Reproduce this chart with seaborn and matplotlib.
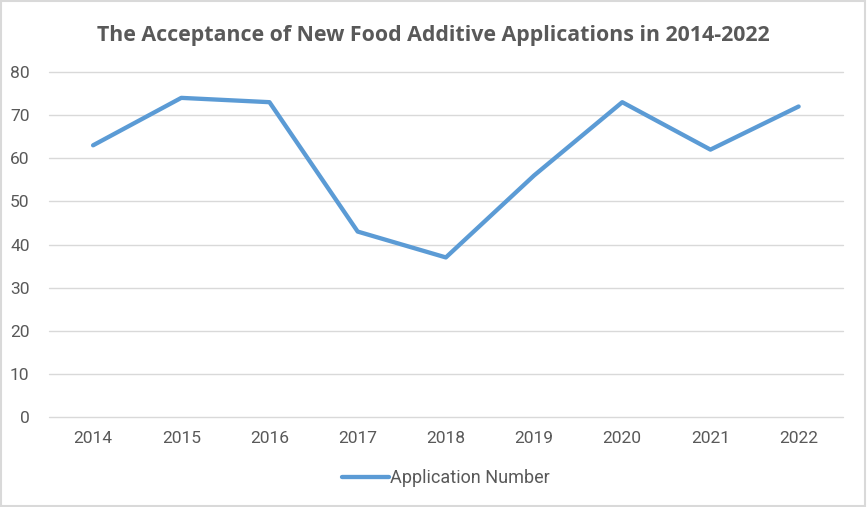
import matplotlib.pyplot as plt
import matplotlib.patches as mpatches
import pandas as pd
import seaborn as sns

# data
years = ['2014', '2015', '2016', '2017', '2018', '2019', '2020', '2021', '2022']
applications = [63, 74, 73, 43, 37, 56, 73, 62, 72]
y_ticks = [0, 10, 20, 30, 40, 50, 60, 70, 80]

df = pd.DataFrame({'year': years, 'Application Number': applications})

sns.set_style('white')
plt.rcParams['font.family'] = ['Roboto', 'DejaVu Sans']

fig = plt.figure(figsize=(8.67, 5.07), dpi=100)
ax = fig.add_axes([0.0565, 0.1775, 0.9155, 0.6805])

sns.lineplot(data=df, x='year', y='Application Number', ax=ax,
             color='#5b9bd5', linewidth=3.1, label='Application Number',
             sort=False)

ax.set_xlim(-0.5, len(years) - 0.5)
ax.set_ylim(0, 80)
ax.set_yticks(y_ticks)
ax.grid(axis='y', color='#d9d9d9', linewidth=1.0)
ax.set_axisbelow(True)
for gl in ax.get_ygridlines():
    gl.set_clip_on(False)
for s in ax.spines.values():
    s.set_visible(False)
ax.tick_params(axis='both', length=0, labelsize=12.5, colors='#595959', pad=10)
ax.tick_params(axis='y', pad=14)
ax.set_xlabel('')
ax.set_ylabel('')

leg = ax.legend(loc='upper center', bbox_to_anchor=(0.5, -0.105), frameon=False,
                fontsize=13, handlelength=2.6, handletextpad=0.1)
for t in leg.get_texts():
    t.set_color('#595959')

fig.text(0.5, 0.93, 'The Acceptance of New Food Additive Applications in 2014-2022',
         ha='center', va='center', fontsize=15.4, fontweight='bold',
         color='#595959', family=['Open Sans', 'DejaVu Sans'])

# light border around the whole chart
fig.patches.append(mpatches.Rectangle((0.001, 0.002), 0.997, 0.996,
                                      transform=fig.transFigure, fill=False,
                                      edgecolor='#d9d9d9', linewidth=1.5))

fig.savefig('out.png', dpi=100)
